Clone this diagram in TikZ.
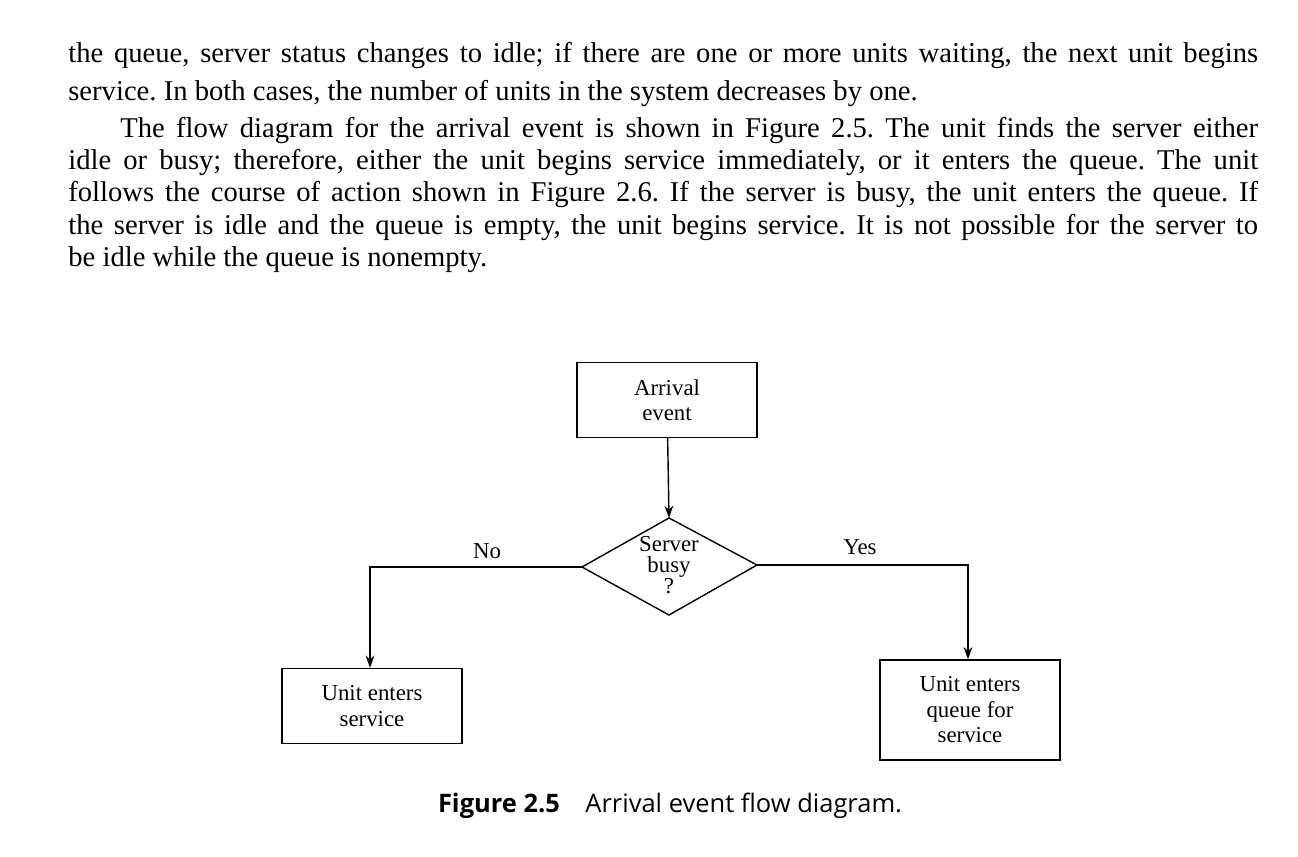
\documentclass[tikz,border=0pt]{standalone}
\usepackage{fontspec}
\setmainfont{Liberation Serif}
\setsansfont{Open Sans}
\usetikzlibrary{arrows.meta}
\newcommand{\jline}[1]{\makebox[23.8cm][s]{#1}}
\begin{document}
\frenchspacing
\begin{tikzpicture}[x=0.02cm,y=-0.02cm,
  para/.style={anchor=base west,inner sep=0,font=\fontsize{16.3}{18}\selectfont},
  box/.style={draw,thick,minimum width=3.6cm,minimum height=1.5cm,align=center,font=\fontsize{13}{14.5}\selectfont},
  conn/.style={thick,-{Stealth[length=7pt,width=5pt]}},
  lbl/.style={font=\fontsize{13}{14}\selectfont}]
\useasboundingbox (0,0) rectangle (1298,856);
\node[para] (l1) at (68,62) {\jline{the queue, server status changes to idle; if there are one or more units waiting, the next unit begins}};
\node[para] (l2) at (68,100) {service. In both cases, the number of units in the system decreases by one.};
\node[para] (l3) at (120,137) {\makebox[22.76cm][s]{The flow diagram for the arrival event is shown in Figure 2.5. The unit finds the server either}};
\node[para] (l4) at (68,169) {\jline{idle or busy; therefore, either the unit begins service immediately, or it enters the queue. The unit}};
\node[para] (l5) at (68,201) {\jline{follows the course of action shown in Figure 2.6. If the server is busy, the unit enters the queue. If}};
\node[para] (l6) at (68,234) {\jline{the server is idle and the queue is empty, the unit begins service. It is not possible for the server to}};
\node[para] (l7) at (68,266) {be idle while the queue is nonempty.};

\node[box] (arr) at (667,400) {Arrival\\event};
\coordinate (dt) at (669,518);
\coordinate (dl) at (582,567);
\coordinate (db) at (669,615);
\coordinate (dr) at (757,565);
\draw[thick] (dt) -- (dr) -- (db) -- (dl) -- cycle;
\node[align=center,inner sep=0,font=\fontsize{13}{12}\selectfont] (srv) at (669,565) {Server\\busy\\?};
\node[box] (svc) at (372,706) {Unit enters\\service};
\node[box,minimum height=2cm] (que) at (970,710) {Unit enters\\queue for\\service};
\coordinate (lc) at (370,567);
\coordinate (rc) at (968,565);
\draw[conn] (arr) -- (dt);
\draw[conn] (dl) -- (lc) -- (svc.north -| lc);
\draw[conn] (dr) -- (rc) -- (que.north -| rc);
\node[lbl] (no) at (487,551) {No};
\node[lbl] (yes) at (860,547) {Yes};
\node[font=\sffamily\fontsize{14.5}{16}\selectfont,anchor=base] (cap) at (670,812) {\textbf{Figure 2.5}\quad Arrival event flow diagram.};
\end{tikzpicture}
\end{document}
